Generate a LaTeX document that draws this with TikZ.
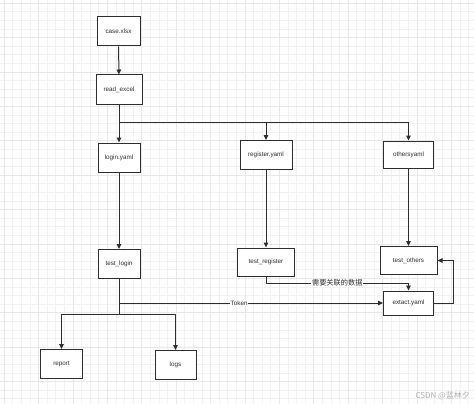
\documentclass[tikz,border=0pt]{standalone}
\usepackage{fontspec}
\setmainfont{Liberation Sans}
\newfontfamily\cjk{Noto Sans CJK SC}
\usetikzlibrary{arrows.meta}
\definecolor{ln}{HTML}{2E2E2E}
\tikzset{
  box/.style={draw=ln, line width=1pt, fill=white, inner sep=0pt, font=\fontsize{6.3}{7}\selectfont, text=ln},
  arr/.style={draw=ln, line width=1pt, -{Triangle[length=5pt,width=4.5pt]}},
  ln/.style={draw=ln, line width=1pt},
  lbl/.style={fill=white, inner sep=0.6pt, font=\fontsize{6.3}{7}\selectfont, text=ln}
}
\begin{document}
\begin{tikzpicture}[x=1pt,y=-1pt]
\useasboundingbox (0,0) rectangle (474,404);
\fill[white] (0,0) rectangle (474,404);
\foreach \i in {0,...,55} {
  \draw[black!5, line width=0.4pt] ({4+\i*8.6},0) -- ({4+\i*8.6},404);
}
\foreach \i in {0,...,47} {
  \draw[black!5, line width=0.4pt] (0,{3+\i*8.6}) -- (474,{3+\i*8.6});
}
\foreach \i in {0,...,13} {
  \draw[black!9, line width=0.5pt] ({4+\i*34.4},0) -- ({4+\i*34.4},404);
}
\foreach \i in {0,...,11} {
  \draw[black!9, line width=0.5pt] (0,{3+\i*34.4}) -- (474,{3+\i*34.4});
}

\node[box, minimum width=43pt, minimum height=29pt] (case) at (118.5,31.5) {case.xlsx};
\node[box, minimum width=46pt, minimum height=29pt] (read) at (119,89.5) {read\_excel};
\node[box, minimum width=42pt, minimum height=29pt] (login) at (119,157.5) {login.yaml};
\node[box, minimum width=52pt, minimum height=29pt] (register) at (266,155) {register.yaml};
\node[box, minimum width=50pt, minimum height=27pt] (others) at (408.5,154.5) {othersyaml};
\node[box, minimum width=42pt, minimum height=29pt] (tlogin) at (119,264) {test\_login};
\node[box, minimum width=57pt, minimum height=28pt] (treg) at (266,262) {test\_register};
\node[box, minimum width=57pt, minimum height=28pt] (tothers) at (408.5,260.5) {test\_others};
\node[box, minimum width=50pt, minimum height=24pt] (extact) at (408.5,303) {extact.yaml};
\node[box, minimum width=42pt, minimum height=29pt] (report) at (61.5,364) {report};
\node[box, minimum width=41pt, minimum height=29pt] (logs) at (175.5,365) {logs};

\coordinate (j1) at (119,122);
\coordinate (c1) at (408.5,283);
\coordinate (t1) at (119,303);
\coordinate (j2) at (119,314);

\draw[arr] (case) -- (read);
\draw[arr] (read) -- (login);
\draw[arr] (j1) -| (register.north);
\draw[arr] (j1) -| (others.north);
\draw[arr] (login) -- (tlogin);
\draw[arr] (register) -- (treg);
\draw[arr] (others) -- (tothers);
\draw[ln] (treg.south) |- (c1) node[lbl, pos=0.75] {\cjk\fontsize{7.2}{8}\selectfont 需要关联的数据};
\draw[arr] (c1) -- (extact.north);
\draw[ln] (tlogin.south) -- (j2);
\draw[arr] (t1) -- node[lbl, pos=0.455] {Token} (extact.west);
\draw[arr] (extact.east) -- ++(19,0) |- (tothers.east);
\draw[arr] (j2) -| (report.north);
\draw[arr] (j2) -| (logs.north);

\node[font=\cjk\fontsize{8}{9}\selectfont, text=black!30, anchor=east, inner sep=0pt] (wm) at (470,396) {CSDN @蓝林夕};
\end{tikzpicture}
\end{document}
